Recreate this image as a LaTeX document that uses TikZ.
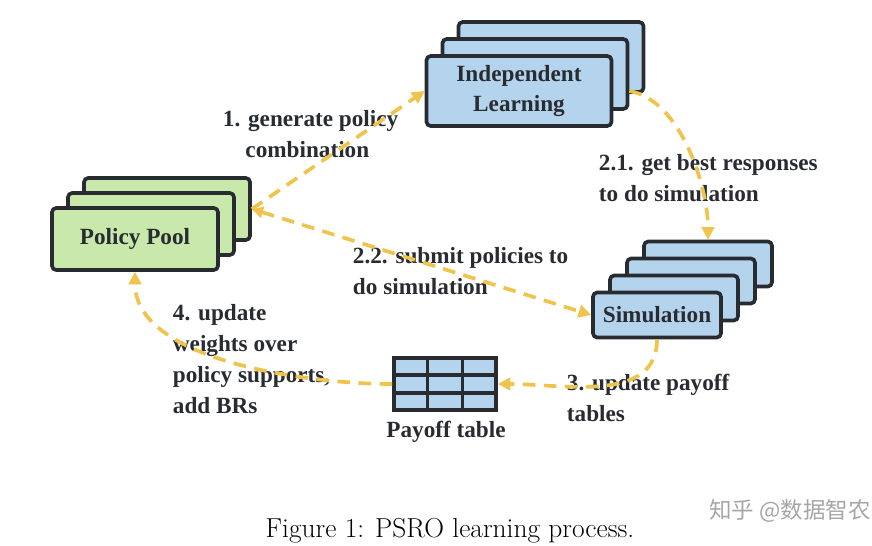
\documentclass[tikz,border=0pt]{standalone}
\usepackage{fontspec}
\setmainfont{Liberation Serif}
\newfontfamily\cjk{Noto Sans CJK SC}
\newfontfamily\lmfont{Latin Modern Roman}
\usetikzlibrary{arrows.meta,calc}
\definecolor{flowyellow}{RGB}{240,196,76}
\definecolor{poolgreen}{RGB}{200,232,172}
\definecolor{simblue}{RGB}{180,212,238}
\definecolor{edgedark}{RGB}{40,44,48}
\begin{document}
\begin{tikzpicture}[x=0.025cm,y=-0.025cm,
greenboxnode/.style={rectangle, draw=edgedark, fill=poolgreen, line width=2.6pt, rounded corners=3pt, font=\bfseries\fontsize{16.5}{18}\selectfont, text=edgedark},
blueboxnode/.style={rectangle, draw=edgedark, fill=simblue, line width=2.6pt, rounded corners=3pt, font=\bfseries\fontsize{16.5}{21}\selectfont, text=edgedark, align=center},
steplabel/.style={font=\bfseries\fontsize{16.5}{22}\selectfont, text=edgedark, align=left, anchor=west},
flow/.style={-{Triangle[length=9pt,width=9pt]}, flowyellow, line width=2.6pt, dash pattern=on 9pt off 6pt}
]
\useasboundingbox (0,0) rectangle (872,545);
%Stacks
\foreach \i in {3,2} \node[greenboxnode, minimum width=166*0.025cm, minimum height=62*0.025cm] at (135+16*\i-16,239-15*\i+15) (pool\i) {};
\node[greenboxnode, minimum width=166*0.025cm, minimum height=62*0.025cm] at (135,239) (pool) {Policy Pool};

\foreach \i in {3,2} \node[blueboxnode, minimum width=185*0.025cm, minimum height=70*0.025cm] at (519+16*\i-16,91-17*\i+17) (il\i) {};
\node[blueboxnode, minimum width=185*0.025cm, minimum height=70*0.025cm] at (519,91) (il) {Independent\\Learning};

\foreach \i in {4,3,2} \node[blueboxnode, minimum width=128*0.025cm, minimum height=45*0.025cm] at (657+17*\i-17,315-17*\i+17) (sim\i) {};
\node[blueboxnode, minimum width=128*0.025cm, minimum height=45*0.025cm] at (657,315) (sim) {Simulation};

%Payoff table
\node[rectangle, draw=edgedark, fill=simblue, line width=2.6pt, minimum width=102*0.025cm, minimum height=52*0.025cm] at (445,384) (table) {};
\draw[edgedark, line width=2.6pt] ($(table.north west)!0.333!(table.north east)$) -- ($(table.south west)!0.333!(table.south east)$)
  ($(table.north west)!0.667!(table.north east)$) -- ($(table.south west)!0.667!(table.south east)$)
  ($(table.north west)!0.333!(table.south west)$) -- ($(table.north east)!0.333!(table.south east)$)
  ($(table.north west)!0.667!(table.south west)$) -- ($(table.north east)!0.667!(table.south east)$);
\node[steplabel, anchor=center] at (446,432) (tablename) {Payoff table};

%Labels
\node[steplabel] at (218,134) (lab1) {1. generate policy\\\hspace{16pt}combination};
\node[steplabel] at (594,178) (lab21) {2.1. get best responses\\to do simulation};
\node[steplabel] at (348,271) (lab22) {2.2. submit policies to\\do simulation};
\node[steplabel] at (562,398) (lab3) {3. update payoff\\tables};
\node[steplabel] at (168,359) (lab4) {4. update\\weights over\\policy supports,\\add BRs};

%Arrows
\draw[flow] (pool3.east) -- (il.west);
\draw[flow, {Triangle[length=8pt,width=8pt]}-{Triangle[length=9pt,width=9pt]}] (pool3.east) -- (sim.west);
\draw[flow] (il2.east |- il.east) to[out=-10,in=90,looseness=0.8] (sim4.north);
\draw[flow] (sim.south) to[out=-90,in=0] (table.east);
\draw[flow] (table.west) to[out=180,in=-90,looseness=0.8] (pool.south);

%Caption and mark
\node[font=\lmfont\fontsize{19.5}{22}\selectfont] at (450,531) (caption) {Figure 1: PSRO learning process.};
\node[font=\cjk\fontsize{16}{18}\selectfont, text=gray!70] at (790,511) (mark) {知乎 @数据智农};
\end{tikzpicture}
\end{document}
